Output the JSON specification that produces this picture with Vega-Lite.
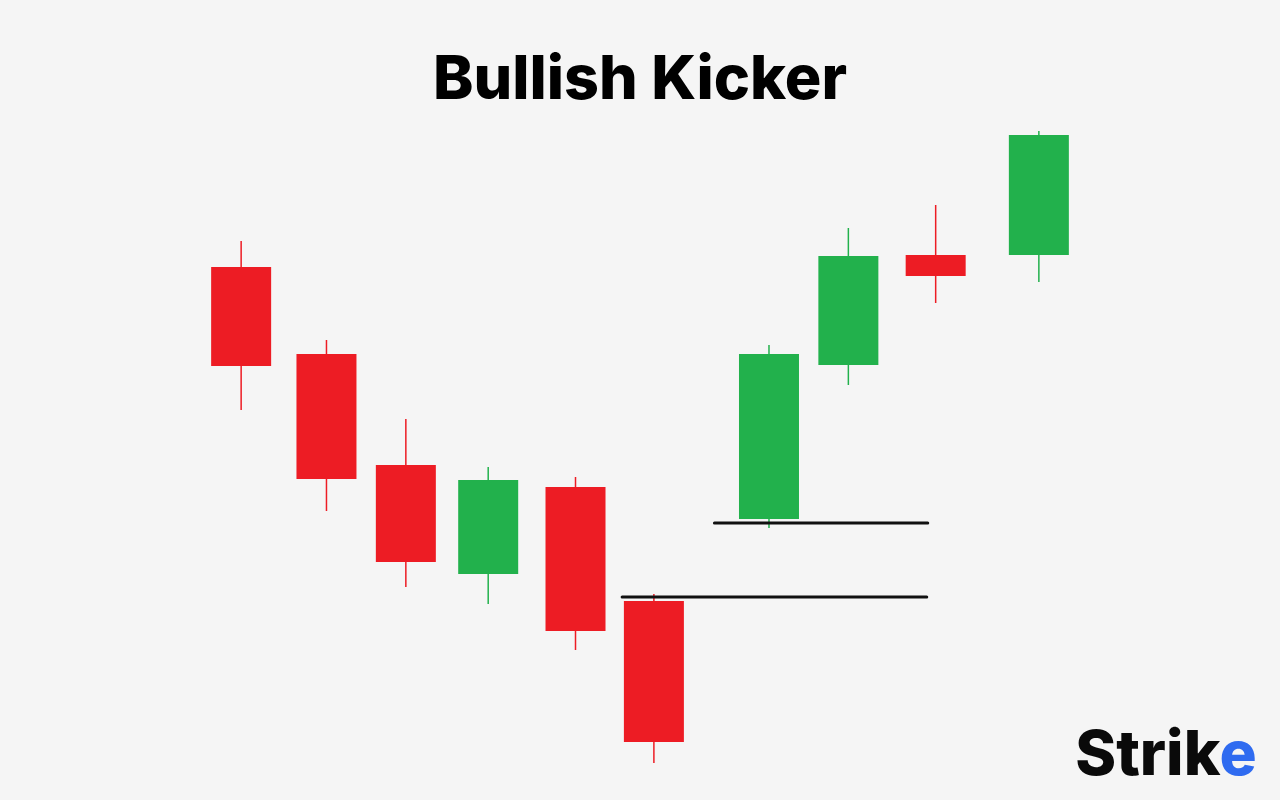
{
  "$schema": "https://vega.github.io/schema/vega-lite/v6.json",
  "width": 1280,
  "height": 800,
  "autosize": {"type": "fit", "contains": "padding"},
  "padding": {"top": 50, "left": 0, "right": 0, "bottom": 0},
  "background": "#f5f5f5",
  "title": {
    "text": "Bullish Kicker",
    "fontSize": 61,
    "font": "Inter",
    "fontWeight": 800,
    "color": "#000000",
    "anchor": "middle",
    "offset": 10
  },
  "config": {"view": {"stroke": null}},
  "datasets": {
    "candles": [
      {"t": 238, "open": 533, "close": 434, "high": 559, "low": 390, "dir": "down"},
      {"t": 324, "open": 446, "close": 321, "high": 460, "low": 289, "dir": "down"},
      {"t": 404, "open": 335, "close": 238, "high": 381, "low": 213, "dir": "down"},
      {"t": 487, "open": 226, "close": 320, "high": 333, "low": 196, "dir": "up"},
      {"t": 575, "open": 313, "close": 169, "high": 323, "low": 150, "dir": "down"},
      {"t": 654, "open": 199, "close": 58, "high": 206, "low": 37, "dir": "down"},
      {"t": 770, "open": 281, "close": 446, "high": 455, "low": 272, "dir": "up"},
      {"t": 850, "open": 435, "close": 544, "high": 572, "low": 415, "dir": "up"},
      {"t": 938, "open": 545, "close": 524, "high": 595, "low": 497, "dir": "down"},
      {"t": 1042, "open": 545, "close": 665, "high": 669, "low": 518, "dir": "up"}
    ],
    "levels": [
      {"x1": 715, "x2": 930, "level": 277},
      {"x1": 622, "x2": 929, "level": 203}
    ],
    "logo1": [{"part": "Strik", "x": 1225, "y": 25}],
    "logo2": [{"part": "e", "x": 1224, "y": 25}]
  },
  "layer": [
    {
      "data": {"name": "candles"},
      "mark": {"type": "rule", "strokeWidth": 1.5},
      "encoding": {
        "x": {"field": "t", "type": "quantitative", "scale": {"domain": [0, 1280], "nice": false, "zero": false}, "axis": null},
        "y": {"field": "low", "type": "quantitative", "scale": {"domain": [0, 678], "nice": false, "zero": false}, "axis": null},
        "y2": {"field": "high"},
        "color": {"field": "dir", "type": "nominal", "scale": {"domain": ["down", "up"], "range": ["#ed1c24", "#22b14c"]}, "legend": null}
      }
    },
    {
      "data": {"name": "candles"},
      "mark": {"type": "bar", "size": 60},
      "encoding": {
        "x": {"field": "t", "type": "quantitative"},
        "y": {"field": "open", "type": "quantitative"},
        "y2": {"field": "close"},
        "color": {"field": "dir", "type": "nominal", "legend": null}
      }
    },
    {
      "data": {"name": "levels"},
      "mark": {"type": "rule", "strokeWidth": 3, "color": "#111111", "strokeCap": "round"},
      "encoding": {
        "x": {"field": "x1", "type": "quantitative"},
        "x2": {"field": "x2"},
        "y": {"field": "level", "type": "quantitative"}
      }
    },
    {
      "data": {"name": "logo1"},
      "mark": {"type": "text", "font": "Inter", "fontWeight": 800, "fontSize": 62, "baseline": "alphabetic", "align": "right", "color": "#0a0a0a"},
      "encoding": {
        "x": {"field": "x", "type": "quantitative"},
        "y": {"field": "y", "type": "quantitative"},
        "text": {"field": "part"}
      }
    },
    {
      "data": {"name": "logo2"},
      "mark": {"type": "text", "font": "Inter", "fontWeight": 800, "fontSize": 62, "baseline": "alphabetic", "align": "left", "color": "#2f6bf0"},
      "encoding": {
        "x": {"field": "x", "type": "quantitative"},
        "y": {"field": "y", "type": "quantitative"},
        "text": {"field": "part"}
      }
    }
  ]
}
